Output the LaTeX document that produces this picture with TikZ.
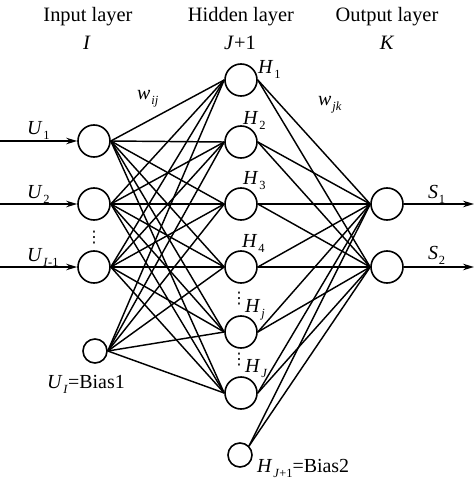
\documentclass[tikz,border=0pt]{standalone}
\usepackage{fontspec}
\setmainfont{Liberation Serif}
\newfontfamily\dvfont{DejaVu Sans}
\usetikzlibrary{arrows.meta}
\newcommand{\varsub}[2]{\textit{#1}\kern0.8bp\raisebox{-5bp}{\fontsize{12.5}{12.5}\selectfont #2}}
\begin{document}
\begin{tikzpicture}[x=1bp,y=-1bp,
  neuron/.style={circle,draw,line width=1.6bp,minimum size=32bp,inner sep=0},
  biasnode/.style={circle,draw,line width=1.6bp,minimum size=24bp,inner sep=0},
  link/.style={line width=1.45bp},
  io/.style={line width=1.45bp,-{Stealth[length=11bp,width=6.5bp]}},
  lbl/.style={inner sep=0,anchor=base west,font=\fontsize{20}{20}\selectfont},
  head/.style={inner sep=0,anchor=base,font=\fontsize{20.5}{20.5}\selectfont},
  vdots/.style={inner sep=0,font=\dvfont\fontsize{16}{16}\selectfont}]
\useasboundingbox (0,0) rectangle (474,481);

% headings
\node[head] (t1) at (88,22) {Input layer};
\node[head] (t2) at (241,22) {Hidden layer};
\node[head] (t3) at (387,22) {Output layer};
\node[head] (n1) at (87,50) {\textit{I}};
\node[head] (n2) at (240,50) {\textit{J}+1};
\node[head] (n3) at (387,50) {\textit{K}};

% input layer
\node[neuron] (in1) at (94,141) {};
\node[neuron] (in2) at (94,204) {};
\node[neuron] (in3) at (94,267) {};
\node[biasnode] (b1) at (95,351) {};

% hidden layer
\node[neuron] (h1) at (241,80) {};
\node[neuron] (h2) at (241,142) {};
\node[neuron] (h3) at (241,204) {};
\node[neuron] (h4) at (241,267) {};
\node[neuron] (h5) at (241,332) {};
\node[neuron] (h6) at (241,393) {};
\node[biasnode] (b2) at (240,455) {};

% output layer
\node[neuron] (o1) at (387,204) {};
\node[neuron] (o2) at (387,267) {};

% input arrows
\coordinate (u1s) at (0,141);
\coordinate (u2s) at (0,204);
\coordinate (u3s) at (0,267);
\draw[io] (u1s) -- (in1.west);
\draw[io] (u2s) -- (in2.west);
\draw[io] (u3s) -- (in3.west);

% output arrows
\coordinate (s1e) at (474,204);
\coordinate (s2e) at (474,267);
\draw[io] (o1.east) -- (s1e);
\draw[io] (o2.east) -- (s2e);

% input -> hidden
\foreach \i in {in1,in2,in3,b1}
  \foreach \j in {h1,h2,h3,h4,h5,h6}
    \draw[link] (\i.east) -- (\j.west);

% hidden -> output
\foreach \j in {h1,h2,h3,h4,h5,h6}
  \foreach \k in {o1,o2}
    \draw[link] (\j.east) -- (\k.west);
\foreach \k in {o1,o2}
  \draw[link] (b2.north east) -- (\k.west);

% labels
\node[lbl] (lu1) at (27,135) {\varsub{U}{1}};
\node[lbl] (lu2) at (27,198) {\varsub{U}{2}};
\node[lbl] (lu3) at (27,261) {\varsub{U}{\textit{I}-1}};
\node[vdots] (d1) at (94,238) {⋮};
\node[lbl] (lb1) at (47,388) {\varsub{U}{\textit{I}}=Bias1};

\node[lbl] (lh1) at (258,74) {\varsub{H}{1}};
\node[lbl] (lh2) at (243,125) {\varsub{H}{2}};
\node[lbl] (lh3) at (243,185) {\varsub{H}{3}};
\node[lbl] (lh4) at (242,247) {\varsub{H}{4}};
\node[vdots] (d2) at (239,299) {⋮};
\node[lbl] (lh5) at (245,312) {\varsub{H}{\textit{j}}};
\node[vdots] (d3) at (239,360) {⋮};
\node[lbl] (lh6) at (245,372) {\varsub{H}{\textit{J}}};
\node[lbl] (lb2) at (257,472) {\varsub{H}{\textit{J}+1}=Bias2};

\node[lbl] (wij) at (137,100) {\varsub{w}{\textit{ij}}};
\node[lbl] (wjk) at (318,106) {\varsub{w}{\textit{jk}}};

\node[lbl] (ls1) at (428,198) {\varsub{S}{1}};
\node[lbl] (ls2) at (428,259) {\varsub{S}{2}};
\end{tikzpicture}
\end{document}
